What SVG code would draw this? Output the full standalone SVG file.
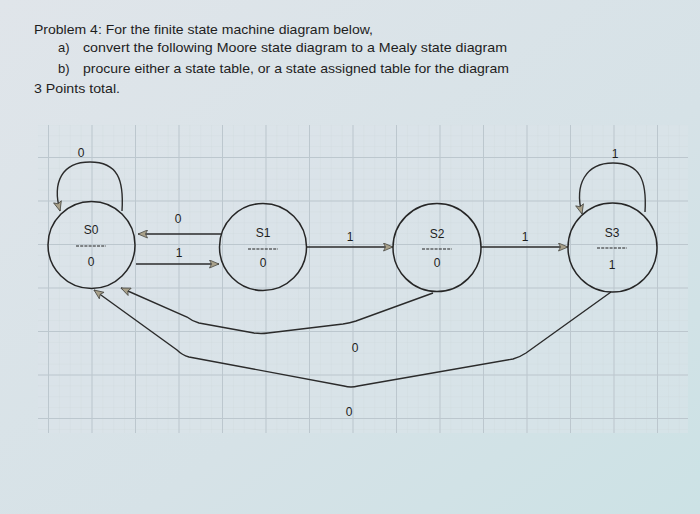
<svg xmlns="http://www.w3.org/2000/svg" width="700" height="514" viewBox="0 0 700 514">
<defs>
<linearGradient id="bg" x1="0" y1="0" x2="1" y2="1">
<stop offset="0" stop-color="#e0e5ea"/>
<stop offset="0.6" stop-color="#d6e2e7"/>
<stop offset="1" stop-color="#cce2e5"/>
</linearGradient>
<pattern id="minor" x="48" y="157" width="10.875" height="10.875" patternUnits="userSpaceOnUse">
<path d="M0,0 V10.875 M0,0 H10.875" stroke="#ccd6db" stroke-width="0.6" fill="none"/>
</pattern>
<pattern id="major" x="48" y="157" width="43.5" height="43.5" patternUnits="userSpaceOnUse">
<path d="M0.5,0 V43.5 M0,0.5 H43.5" stroke="#bcc7ce" stroke-width="1" fill="none"/>
</pattern>
<marker id="arr" markerUnits="userSpaceOnUse" markerWidth="11" markerHeight="9" refX="10" refY="4.5" orient="auto">
<path d="M0.5,0.5 L10,4.5 L0.5,8.5 L2.5,4.5 z" fill="#a9a18a" stroke="#4a4a45" stroke-width="0.8"/>
</marker>
<style>
.t{font-family:"Liberation Sans",Arial,sans-serif;font-size:13px;fill:#1e1e1e}
.l{font-family:"Liberation Sans",Arial,sans-serif;font-size:12px;fill:#1e1e1e;text-anchor:middle}
.st{fill:none;stroke:#262626;stroke-width:1.5}
.c{stroke:#2b2b2b;stroke-width:1.4;fill:none}
.d{stroke:#222;stroke-width:1.2;stroke-dasharray:3,1.2}
</style>
</defs>
<rect width="700" height="514" fill="url(#bg)"/>
<g id="grid">
<rect x="38" y="125" width="650" height="308" fill="#dce4e9" opacity="0.5"/>
<rect x="38" y="125" width="650" height="308" fill="url(#minor)"/>
<rect x="38" y="125" width="650" height="308" fill="url(#major)"/>
</g>
<g id="title">
<text class="t" x="34" y="34" textLength="339" lengthAdjust="spacingAndGlyphs">Problem 4: For the finite state machine diagram below,</text>
<text class="t" x="58" y="52">a)</text>
<text class="t" x="83" y="52" textLength="424" lengthAdjust="spacingAndGlyphs">convert the following Moore state diagram to a Mealy state diagram</text>
<text class="t" x="58" y="73">b)</text>
<text class="t" x="83" y="73" textLength="426" lengthAdjust="spacingAndGlyphs">procure either a state table, or a state assigned table for the diagram</text>
<text class="t" x="34" y="93" textLength="86" lengthAdjust="spacingAndGlyphs">3 Points total.</text>
</g>
<g id="connectors">
<path class="c" d="M122,211 C124,180 118,162 90,162 C62,162 52,182 60,211" marker-end="url(#arr)"/>
<path class="c" d="M645,212 C647,180 640,163 613,163 C586,163 574,184 582,214" marker-end="url(#arr)"/>
<line class="c" x1="221" y1="234" x2="138" y2="234" marker-end="url(#arr)"/>
<line class="c" x1="136" y1="264" x2="219" y2="264" marker-end="url(#arr)"/>
<line class="c" x1="307" y1="247" x2="393" y2="247" marker-end="url(#arr)"/>
<line class="c" x1="481" y1="247" x2="568" y2="247" marker-end="url(#arr)"/>
<path class="c" d="M433,293 L356,321 Q350,323 343,324 L268,333 Q261,334 254,333 L199,323 Q192,321 187,317 L121,288" marker-end="url(#arr)"/>
<path class="c" d="M611,292 L526,353 Q520,357 513,359 L358,386 Q351,388 344,386 L189,357 Q182,355 177,350 L94,290" marker-end="url(#arr)"/>
<text class="l" x="81" y="157">0</text>
<text class="l" x="615" y="158">1</text>
<text class="l" x="178" y="223">0</text>
<text class="l" x="179" y="257">1</text>
<text class="l" x="350" y="241">1</text>
<text class="l" x="525" y="241">1</text>
<text class="l" x="355" y="352">0</text>
<text class="l" x="349" y="416">0</text>
</g>
<g id="S0">
<circle class="st" cx="91.5" cy="245" r="43.5"/>
<text class="l" x="91" y="234">S0</text>
<line class="d" x1="76" y1="246" x2="106" y2="246"/>
<text class="l" x="91" y="266">0</text>
</g>
<g id="S1">
<circle class="st" cx="263" cy="247" r="43.5"/>
<text class="l" x="263" y="237">S1</text>
<line class="d" x1="248" y1="249" x2="278" y2="249"/>
<text class="l" x="263" y="267">0</text>
</g>
<g id="S2">
<circle class="st" cx="437" cy="247.5" r="44"/>
<text class="l" x="437" y="238">S2</text>
<line class="d" x1="422" y1="249" x2="452" y2="249"/>
<text class="l" x="437" y="267">0</text>
</g>
<g id="S3">
<circle class="st" cx="612.5" cy="247.5" r="44.5"/>
<text class="l" x="612" y="237">S3</text>
<line class="d" x1="597" y1="248" x2="627" y2="248"/>
<text class="l" x="612" y="269">1</text>
</g>
</svg>
